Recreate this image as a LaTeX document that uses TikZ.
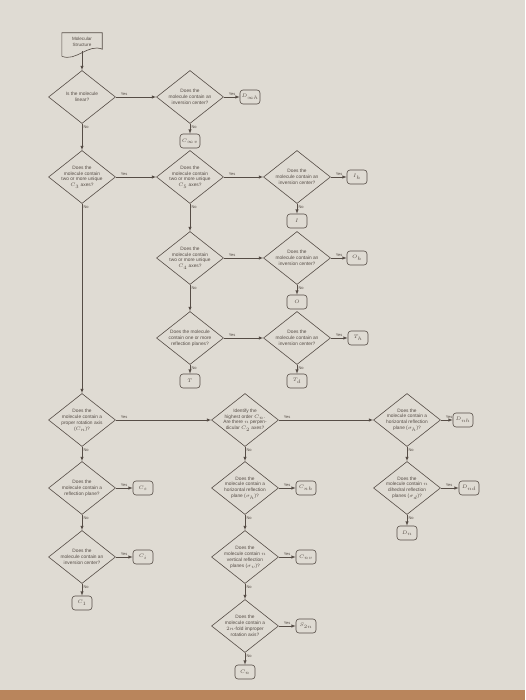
\documentclass[tikz,border=0pt]{standalone}
\usepackage{fontspec}
\setmainfont{Liberation Sans}
\usetikzlibrary{shapes.geometric}
\definecolor{paper}{HTML}{DFDBD3}
\definecolor{ink}{HTML}{564D46}
\definecolor{wood}{HTML}{B9855C}

\begin{document}
\begin{tikzpicture}[x=1pt,y=-1pt,
  question/.style={diamond,draw=ink,line width=0.6pt,aspect=1.26,minimum width=67pt,minimum height=53pt,inner sep=-4pt,align=center,text=ink,font=\fontsize{4.8}{5.9}\selectfont},
  pointgroup/.style={draw=ink,line width=0.6pt,rounded corners=3pt,minimum width=20pt,minimum height=14pt,inner sep=1pt,text=ink,font=\fontsize{5.5}{6.5}\selectfont},
  flow/.style={draw=ink,line width=0.5pt,->,>=latex},
  yeslabel/.style={pos=0,anchor=south west,xshift=4pt,inner sep=0.8pt,text=ink,font=\fontsize{4}{4}\selectfont},
  nolabel/.style={pos=0,anchor=north west,xshift=0.5pt,yshift=-1pt,inner sep=0.8pt,text=ink,font=\fontsize{4}{4}\selectfont}]
\fill[paper] (0,0) rectangle (525,700);
\fill[wood] (0,690) rectangle (525,700);
\useasboundingbox (0,0) rectangle (525,700);

% start
\node[minimum width=40pt,minimum height=18pt,align=center,text=ink,font=\fontsize{4.6}{5.8}\selectfont] at (82,42) (start) {Molecular\\Structure};
\draw[ink,line width=0.6pt] ([yshift=-5pt]start.south west) -- (start.north west) -- (start.north east) -- ([yshift=2pt]start.south east) .. controls +(-14,-6) and +(14,6) .. ([yshift=-5pt]start.south west);

% linear branch
\node[question] at (82,97) (qlin) {Is the molecule\\linear?};
\node[question] at (190,97) (qinvlin) {Does the\\molecule contain an\\inversion center?};
\node[pointgroup] at (250,97) (Dinfh) {$D_{\infty h}$};
\node[pointgroup] at (190,141) (Cinfv) {$C_{\infty v}$};

% high symmetry
\node[question] at (82,177) (qcthree) {Does the\\molecule contain\\two or more unique\\$C_3$ axes?};
\node[question] at (190,177) (qcfive) {Does the\\molecule contain\\two or more unique\\$C_5$ axes?};
\node[question] at (297,177) (qinvI) {Does the\\molecule contain an\\inversion center?};
\node[pointgroup] at (357,177) (Ih) {$I_h$};
\node[pointgroup] at (297,221) (I) {$I$};
\node[question] at (190,258) (qcfour) {Does the\\molecule contain\\two or more unique\\$C_4$ axes?};
\node[question] at (297,258) (qinvO) {Does the\\molecule contain an\\inversion center?};
\node[pointgroup] at (357,258) (Oh) {$O_h$};
\node[pointgroup] at (297,302) (O) {$O$};
\node[question] at (190,338) (qrefl) {Does the molecule\\contain one or more\\reflection planes?};
\node[question] at (297,338) (qinvT) {Does the\\molecule contain an\\inversion center?};
\node[pointgroup] at (358,338) (Th) {$T_h$};
\node[pointgroup] at (190,381) (T) {$T$};
\node[pointgroup] at (297,381) (Td) {$T_d$};

% rotation axis
\node[question] at (82,420) (qcn) {Does the\\molecule contain a\\proper rotation axis\\($C_n$)?};
\node[question] at (245,420) (qperp) {Identify the\\highest order $C_n$.\\Are there $n$ perpen-\\dicular $C_2$ axes?};
\node[question] at (407,420) (qhordih) {Does the\\molecule contain a\\horizontal reflection\\plane ($\sigma_h$)?};
\node[pointgroup] at (463,420) (Dnh) {$D_{nh}$};
\node[question] at (407,488) (qdih) {Does the\\molecule contain $n$\\dihedral reflection\\planes ($\sigma_d$)?};
\node[pointgroup] at (469,488) (Dnd) {$D_{nd}$};
\node[pointgroup] at (407,533) (Dn) {$D_n$};

% low symmetry
\node[question] at (82,488) (qmirror) {Does the\\molecule contain a\\reflection plane?};
\node[pointgroup] at (143,488) (Cs) {$C_s$};
\node[question] at (82,557) (qinvlow) {Does the\\molecule contain an\\inversion center?};
\node[pointgroup] at (143,557) (Ci) {$C_i$};
\node[pointgroup] at (82,603) (Cone) {$C_1$};

% cyclic groups
\node[question] at (245,488) (qhor) {Does the\\molecule contain a\\horizontal reflection\\plane ($\sigma_h$)?};
\node[pointgroup] at (306,488) (Cnh) {$C_{nh}$};
\node[question] at (245,557) (qvert) {Does the\\molecule contain $n$\\vertical reflection\\planes ($\sigma_v$)?};
\node[pointgroup] at (306,557) (Cnv) {$C_{nv}$};
\node[question] at (245,626) (qimp) {Does the\\molecule contain a\\$2n$-fold improper\\rotation axis?};
\node[pointgroup] at (306,626) (Stwon) {$S_{2n}$};
\node[pointgroup] at (245,672) (Cn) {$C_n$};

\draw[flow] (start.south) -- (qlin);
\draw[flow] (qlin) -- node[yeslabel]{Yes} (qinvlin);
\draw[flow] (qinvlin) -- node[yeslabel]{Yes} (Dinfh);
\draw[flow] (qinvlin) -- node[nolabel]{No} (Cinfv);
\draw[flow] (qlin) -- node[nolabel]{No} (qcthree);
\draw[flow] (qcthree) -- node[yeslabel]{Yes} (qcfive);
\draw[flow] (qcthree) -- node[nolabel]{No} (qcn);
\draw[flow] (qcfive) -- node[yeslabel]{Yes} (qinvI);
\draw[flow] (qinvI) -- node[yeslabel]{Yes} (Ih);
\draw[flow] (qinvI) -- node[nolabel]{No} (I);
\draw[flow] (qcfive) -- node[nolabel]{No} (qcfour);
\draw[flow] (qcfour) -- node[yeslabel]{Yes} (qinvO);
\draw[flow] (qinvO) -- node[yeslabel]{Yes} (Oh);
\draw[flow] (qinvO) -- node[nolabel]{No} (O);
\draw[flow] (qcfour) -- node[nolabel]{No} (qrefl);
\draw[flow] (qrefl) -- node[yeslabel]{Yes} (qinvT);
\draw[flow] (qinvT) -- node[yeslabel]{Yes} (Th);
\draw[flow] (qinvT) -- node[nolabel]{No} (Td);
\draw[flow] (qrefl) -- node[nolabel]{No} (T);
\draw[flow] (qcn) -- node[yeslabel]{Yes} (qperp);
\draw[flow] (qperp) -- node[yeslabel]{Yes} (qhordih);
\draw[flow] (qhordih) -- node[yeslabel]{Yes} (Dnh);
\draw[flow] (qhordih) -- node[nolabel]{No} (qdih);
\draw[flow] (qdih) -- node[yeslabel]{Yes} (Dnd);
\draw[flow] (qdih) -- node[nolabel]{No} (Dn);
\draw[flow] (qcn) -- node[nolabel]{No} (qmirror);
\draw[flow] (qmirror) -- node[yeslabel]{Yes} (Cs);
\draw[flow] (qmirror) -- node[nolabel]{No} (qinvlow);
\draw[flow] (qinvlow) -- node[yeslabel]{Yes} (Ci);
\draw[flow] (qinvlow) -- node[nolabel]{No} (Cone);
\draw[flow] (qperp) -- node[nolabel]{No} (qhor);
\draw[flow] (qhor) -- node[yeslabel]{Yes} (Cnh);
\draw[flow] (qhor) -- node[nolabel]{No} (qvert);
\draw[flow] (qvert) -- node[yeslabel]{Yes} (Cnv);
\draw[flow] (qvert) -- node[nolabel]{No} (qimp);
\draw[flow] (qimp) -- node[yeslabel]{Yes} (Stwon);
\draw[flow] (qimp) -- node[nolabel]{No} (Cn);
\end{tikzpicture}
\end{document}
